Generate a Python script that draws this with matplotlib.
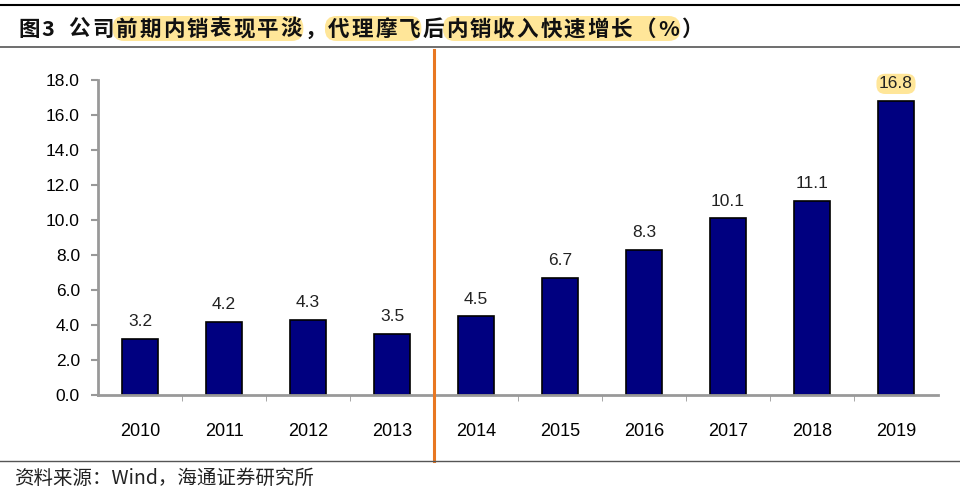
import matplotlib.pyplot as plt
from matplotlib.patches import FancyBboxPatch

plt.rcParams['font.family'] = ['Liberation Sans', 'Noto Sans CJK SC', 'DejaVu Sans']

years = ['2010', '2011', '2012', '2013', '2014', '2015', '2016', '2017', '2018', '2019']
values = [3.2, 4.2, 4.3, 3.5, 4.5, 6.7, 8.3, 10.1, 11.1, 16.8]
yticks = [0, 2, 4, 6, 8, 10, 12, 14, 16, 18]

# title pieces: (text, highlighted?)
title_parts = [('图3  公司', False), ('前期内销表现平淡', True), ('，', False),
               ('代理摩飞', True), ('后', False), ('内销收入快速增长（%', True),
               ('）', False)]
source = '资料来源：Wind，海通证券研究所'

W, H = 960, 492
fig = plt.figure(figsize=(W / 100, H / 100), dpi=100)
ax = fig.add_axes([98 / W, 1 - 395 / H, (938 - 98) / W, (395 - 80) / H])

x = list(range(len(years)))
ax.bar(x, values, width=0.43, color='#000080', edgecolor='black', linewidth=1.2, zorder=2)
for xi, v in zip(x, values):
    kw = {}
    if v == max(values):
        kw['bbox'] = dict(boxstyle='round,pad=0.15,rounding_size=0.5', fc='#FFE699', ec='none')
    ax.text(xi, v + 0.55, f'{v:.1f}', ha='center', va='bottom', fontsize=12.5, color='#222222', **kw)

ax.set_xlim(-0.5, len(years) - 0.5)
ax.set_ylim(0, 18)
ax.set_yticks(yticks)
ax.set_yticklabels([f'{t:.1f}' for t in yticks], fontsize=12.5)
ax.set_xticks(x)
ax.set_xticklabels(years, fontsize=13)
ax.set_xticks([i + 0.5 for i in x[:-1]], minor=True)
ax.tick_params(axis='x', which='major', length=0, pad=20)
ax.tick_params(axis='x', which='minor', length=4, color='#999999', direction='out')
ax.tick_params(axis='y', length=5, width=1.5, color='#999999', direction='out', pad=8)
for s in ['top', 'right']:
    ax.spines[s].set_visible(False)
for s in ['left', 'bottom']:
    ax.spines[s].set_color('#999999')
    ax.spines[s].set_linewidth(2)

# orange divider between 2013 and 2014
ax.plot([3.5, 3.5], [-3.75, 19.7], color='#E87722', lw=2.2, clip_on=False, zorder=3)

# frame lines
fig.add_artist(plt.Line2D([0, 1], [1 - 5 / H, 1 - 5 / H], color='black', lw=1.5))
fig.add_artist(plt.Line2D([0, 1], [1 - 47 / H, 1 - 47 / H], color='#555555', lw=1.2))
fig.add_artist(plt.Line2D([0, 1], [1 - 461 / H, 1 - 461 / H], color='#555555', lw=1.0))

# title, one character at a time with a fixed CJK pitch
renderer = fig.canvas.get_renderer()
pitch = 23.6
xpos = 18
ty = 1 - 29 / H
for txt, hl in title_parts:
    start = xpos
    for ch in txt:
        t = fig.text(xpos / W, ty, ch, fontsize=15.5, fontweight='bold', va='center', ha='left',
                     family=['Noto Sans CJK SC', 'DejaVu Sans'], color='#111111', zorder=3)
        if ord(ch) > 0x2E80:
            xpos += pitch
        elif ch == ' ':
            xpos += 6
        else:
            xpos += t.get_window_extent(renderer).width + 2
    if hl:
        box = FancyBboxPatch(((start - 3) / W, 1 - 41 / H), (xpos - start + 2) / W, 25 / H,
                             boxstyle='round,pad=0,rounding_size=0.012', transform=fig.transFigure,
                             fc='#FFE699', ec='none', zorder=1, mutation_aspect=W / H)
        fig.add_artist(box)

fig.text(14 / W, 1 - 478 / H, source, fontsize=14, va='center', ha='left',
         family=['Noto Sans CJK SC', 'DejaVu Sans'], color='#222222')

fig.savefig('out.png', dpi=100)
